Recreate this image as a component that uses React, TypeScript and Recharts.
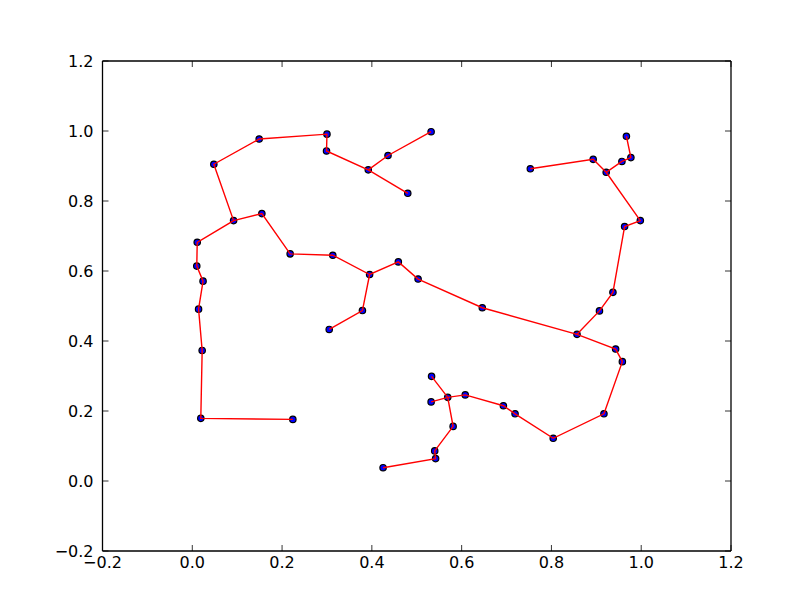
import { Scatter, ScatterChart, XAxis, YAxis } from "recharts";

// node positions (tree of 50 points)
const xs = [
  0.224, 0.019, 0.022, 0.014, 0.024, 0.01, 0.011, 0.092, 0.048, 0.149,
  0.3, 0.299, 0.392, 0.436, 0.532, 0.48, 0.155, 0.218, 0.313, 0.395,
  0.379, 0.305, 0.459, 0.503, 0.646, 0.857, 0.907, 0.937, 0.963, 0.998,
  0.922, 0.893, 0.753, 0.957, 0.977, 0.967, 0.943, 0.958, 0.917, 0.804,
  0.719, 0.693, 0.608, 0.569, 0.533, 0.532, 0.581, 0.54, 0.542, 0.425,
];
const ys = [
  0.176, 0.179, 0.373, 0.491, 0.571, 0.614, 0.682, 0.744, 0.905, 0.977,
  0.991, 0.943, 0.889, 0.93, 0.998, 0.822, 0.764, 0.649, 0.645, 0.59,
  0.487, 0.433, 0.626, 0.577, 0.495, 0.419, 0.486, 0.539, 0.727, 0.744,
  0.882, 0.919, 0.892, 0.913, 0.924, 0.985, 0.377, 0.341, 0.192, 0.122,
  0.192, 0.215, 0.246, 0.239, 0.299, 0.226, 0.156, 0.086, 0.064, 0.038,
];

// edges, written as chains of node indices
const branches = [
  [0, 1, 2, 3, 4, 5, 6, 7, 8, 9, 10, 11, 12, 13, 14],
  [12, 15],
  [7, 16, 17, 18, 19, 22, 23, 24, 25, 36, 37, 38, 39, 40, 41, 42, 43, 44],
  [19, 20, 21],
  [25, 26, 27, 28, 29, 30, 31, 32],
  [30, 33, 34, 35],
  [43, 45],
  [43, 46, 47, 48, 49],
];

const ticks = [-0.2, 0, 0.2, 0.4, 0.6, 0.8, 1.0, 1.2];

const FONT = "'DejaVu Sans', sans-serif";
const FS = 16;
const TL = 6;

const fmt = (v: number) => (v < 0 ? "\u2212" : "") + Math.abs(v).toFixed(1);

function BottomTick({ x, y, payload }: any) {
  return (
    <g>
      <line x1={x} x2={x} y1={y} y2={y - TL} stroke="#000" strokeWidth={0.8} />
      <text x={x} y={y + 17} textAnchor="middle" fontSize={FS} fontFamily={FONT} fill="#000">
        {fmt(payload.value)}
      </text>
    </g>
  );
}

function LeftTick({ x, y, payload }: any) {
  return (
    <g>
      <line x1={x} x2={x + TL} y1={y} y2={y} stroke="#000" strokeWidth={0.8} />
      <text x={x - 9} y={y + 6} textAnchor="end" fontSize={FS} fontFamily={FONT} fill="#000">
        {fmt(payload.value)}
      </text>
    </g>
  );
}

function TopTick({ x, y }: any) {
  return <line x1={x} x2={x} y1={y} y2={y + TL} stroke="#000" strokeWidth={0.8} />;
}

function RightTick({ x, y }: any) {
  return <line x1={x} x2={x - TL} y1={y} y2={y} stroke="#000" strokeWidth={0.8} />;
}

const Dot = ({ cx, cy }: any) => (
  <circle cx={cx} cy={cy} r={3.2} fill="#0000ff" stroke="#000" strokeWidth={1.2} />
);

const NoShape = () => <g />;

export default function App() {
  const nodes = xs.map((x, i) => ({ x, y: ys[i] }));
  const axisLine = { stroke: "#000", strokeWidth: 1.3 };

  return (
    <div style={{ width: 800, height: 600, background: "#fff" }}>
      <ScatterChart
        width={800}
        height={600}
        margin={{ top: 43, right: 67, bottom: 27, left: 0 }}
      >
        <XAxis
          type="number"
          dataKey="x"
          domain={[-0.2, 1.2]}
          ticks={ticks}
          allowDataOverflow
          height={30}
          tickSize={0}
          tickMargin={0}
          axisLine={axisLine}
          tickLine={false}
          tick={<BottomTick />}
          interval={0}
        />
        <XAxis
          xAxisId="top"
          orientation="top"
          type="number"
          dataKey="x"
          domain={[-0.2, 1.2]}
          ticks={ticks}
          allowDataOverflow
          height={10}
          tickSize={0}
          tickMargin={0}
          axisLine={axisLine}
          tickLine={false}
          tick={<TopTick />}
          interval={0}
        />
        <YAxis
          type="number"
          dataKey="y"
          domain={[-0.2, 1.2]}
          ticks={ticks}
          allowDataOverflow
          width={94.5}
          tickSize={0}
          tickMargin={0}
          axisLine={axisLine}
          tickLine={false}
          tick={<LeftTick />}
          interval={0}
        />
        <YAxis
          yAxisId="right"
          orientation="right"
          type="number"
          dataKey="y"
          domain={[-0.2, 1.2]}
          ticks={ticks}
          allowDataOverflow
          width={10}
          tickSize={0}
          tickMargin={0}
          axisLine={axisLine}
          tickLine={false}
          tick={<RightTick />}
          interval={0}
        />
        <Scatter data={nodes} shape={<Dot />} isAnimationActive={false} />
        {branches.map((chain, k) => (
          <Scatter
            key={k}
            data={chain.map((i) => nodes[i])}
            line={{ stroke: "#ff0000", strokeWidth: 1.4 }}
            shape={<NoShape />}
            isAnimationActive={false}
          />
        ))}
      </ScatterChart>
    </div>
  );
}
